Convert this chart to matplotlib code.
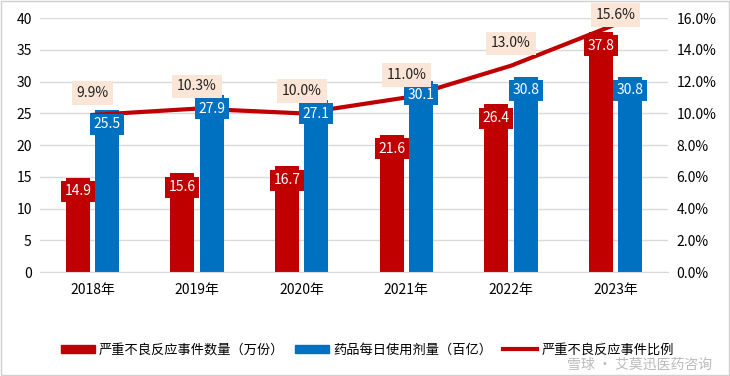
import numpy as np
import matplotlib.pyplot as plt
from matplotlib.patches import Rectangle
from matplotlib.lines import Line2D

plt.rcParams['font.family'] = ['Noto Sans CJK SC', 'DejaVu Sans']

# Data
years = ['2018年', '2019年', '2020年', '2021年', '2022年', '2023年']
events = [14.9, 15.6, 16.7, 21.6, 26.4, 37.8]        # 严重不良反应事件数量（万份）
doses = [25.5, 27.9, 27.1, 30.1, 30.8, 30.8]         # 药品每日使用剂量（百亿）
ratio = [9.9, 10.3, 10.0, 11.0, 13.0, 15.6]          # 严重不良反应事件比例 (%)

red = '#C00000'
blue = '#0070C0'
peach = '#FBE5D6'
grid = '#D9D9D9'

fig = plt.figure(figsize=(7.3, 3.76), dpi=100)
ax = fig.add_axes([0.055, 0.276, 0.86, 0.676])
ax2 = ax.twinx()

x = np.arange(len(years))
w = 0.23
off = 0.14
ax.bar(x - off, events, w, color=red, zorder=2)
ax.bar(x + off, doses, w, color=blue, zorder=2)

ax.set_ylim(0, 40)
ax.set_yticks(range(0, 41, 5))
ax.set_xlim(-0.5, len(years) - 0.5)
ax.set_xticks(x)
ax.set_xticklabels(years, fontsize=10)
ax.tick_params(axis='y', labelsize=10, length=0, pad=6)
ax.tick_params(axis='x', length=0, pad=8)
ax.grid(axis='y', color=grid, linewidth=1, zorder=0)
ax.set_axisbelow(True)
for s in ax.spines.values():
    s.set_visible(False)
ax.spines['bottom'].set_visible(True)
ax.spines['bottom'].set_color(grid)

ax2.set_ylim(0, 16)
ax2.set_yticks(range(0, 17, 2))
ax2.set_yticklabels([f'{v:.1f}%' for v in range(0, 17, 2)])
ax2.tick_params(axis='y', labelsize=10, length=0, pad=6)
for s in ax2.spines.values():
    s.set_visible(False)

ax.set_zorder(ax2.get_zorder() + 1)
ax.patch.set_visible(False)

# line drawn on the bar axes so it sits above bars, below labels
ax.plot(x, np.array(ratio) * 40 / 16, color=red, linewidth=3, zorder=3)

# bar labels
for xi, v in zip(x, events):
    ax.annotate(f'{v}', (xi - off, v), xytext=(0, -5), textcoords='offset points',
                ha='center', va='top', color='white', fontsize=10, zorder=5,
                bbox=dict(boxstyle='square,pad=0.25', fc=red, ec='none'),
                annotation_clip=False)
for xi, v in zip(x, doses):
    ax.annotate(f'{v}', (xi + off, v), xytext=(0, -5), textcoords='offset points',
                ha='center', va='top', color='white', fontsize=10, zorder=5,
                bbox=dict(boxstyle='square,pad=0.25', fc=blue, ec='none'),
                annotation_clip=False)

# percentage labels
for xi, v in zip(x, ratio):
    dy = 16 if v < 15 else 7
    ax.annotate(f'{v:.1f}%', (xi, v * 40 / 16), xytext=(0, dy), textcoords='offset points',
                ha='center', va='center', color='#222222', fontsize=10, zorder=6,
                bbox=dict(boxstyle='square,pad=0.35', fc=peach, ec='none'),
                annotation_clip=False)

handles = [Rectangle((0, 0), 1, 1, color=red),
           Rectangle((0, 0), 1, 1, color=blue),
           Line2D([0], [0], color=red, linewidth=3)]
labels = ['严重不良反应事件数量（万份）', '药品每日使用剂量（百亿）', '严重不良反应事件比例']
fig.legend(handles, labels, loc='center', bbox_to_anchor=(0.503, 0.069), ncol=3,
           frameon=False, fontsize=9.5, handlelength=2.6, handleheight=0.6,
           handletextpad=0.3, columnspacing=0.8)

fig.text(0.975, 0.03, '雪球 · 艾莫迅医药咨询', fontsize=10, color='#BBBBBB',
         ha='right', va='center')

fig.add_artist(Rectangle((0.002, 0.003), 0.996, 0.994, transform=fig.transFigure,
                         fill=False, ec='#D0D0D0', lw=1))

fig.savefig('out.png', dpi=100)
